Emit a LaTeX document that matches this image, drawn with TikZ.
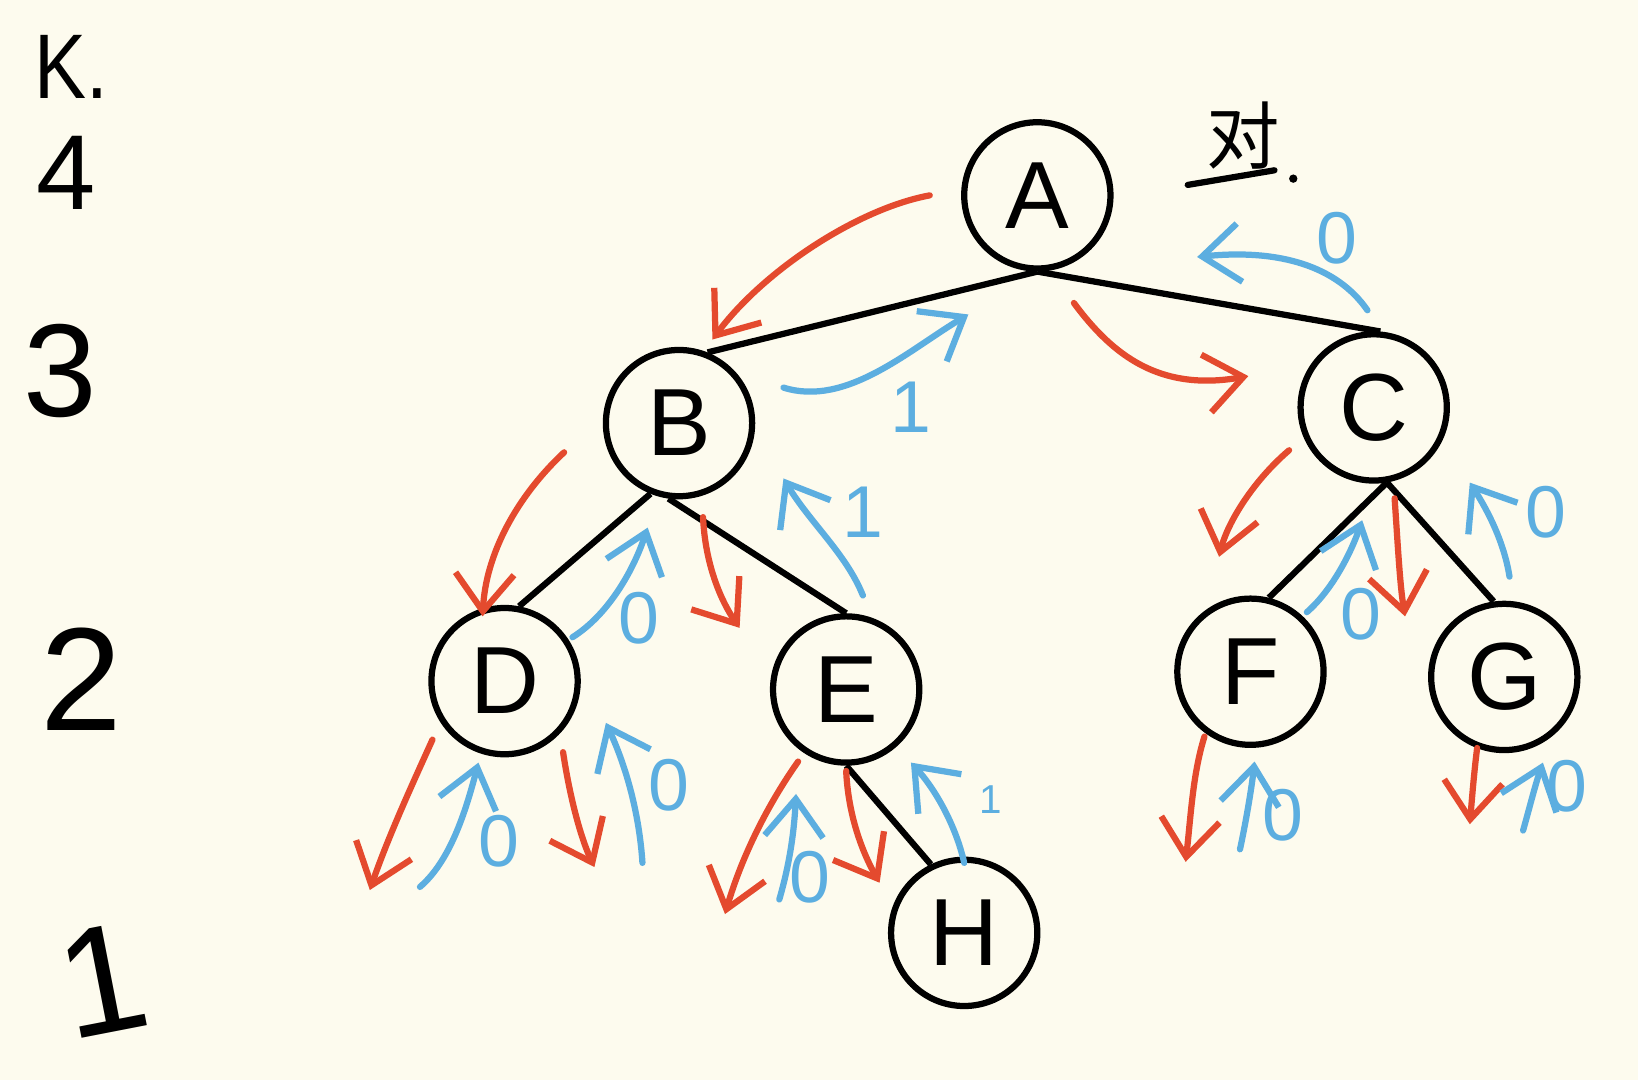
\documentclass[tikz,border=0pt]{standalone}
\usepackage{fontspec}
\setmainfont{Liberation Sans}
\newfontfamily\cjk{Noto Sans CJK SC}
\usetikzlibrary{arrows.meta}
\definecolor{paper}{RGB}{253,251,238}
\definecolor{redpen}{RGB}{228,74,46}
\definecolor{bluepen}{RGB}{92,174,224}
\tikzset{
  vertex/.style={circle,draw,line width=1.7pt,minimum size=14mm,inner sep=0pt,
    font=\fontsize{26}{26}\selectfont},
  goarrow/.style={draw=redpen,line width=1.7pt,line cap=round,
    -{Straight Barb[length=3.6mm,width=5.6mm]}},
  backarrow/.style={draw=bluepen,line width=1.7pt,line cap=round,
    -{Straight Barb[length=3.6mm,width=5.6mm]}},
  bit/.style={text=bluepen,inner sep=0pt,font=\fontsize{20}{20}\selectfont},
  kmark/.style={inner sep=0pt}
}
\begin{document}
\begin{tikzpicture}[x=0.1mm,y=-0.1mm]
  \fill[paper] (0,0) rectangle (1568,1034);
  \useasboundingbox (0,0) rectangle (1568,1034);
  % left column
  \node[kmark,font=\fontsize{25}{25}\selectfont,xscale=0.85] (k) at (68,64) {K.};
  \node[kmark,font=\fontsize{29}{29}\selectfont] (k4) at (63,165) {4};
  \node[kmark,font=\fontsize{36}{36}\selectfont] (k3) at (58,355) {3};
  \node[kmark,font=\fontsize{40}{40}\selectfont] (k2) at (78,650) {2};
  \node[kmark,font=\fontsize{42}{42}\selectfont,rotate=11] (k1) at (98,938) {1};
  % the tree
  \node[vertex] (a) at (993,187) {A};
  \node[vertex] (b) at (650,405) {B};
  \node[vertex] (c) at (1315,390) {C};
  \node[vertex] (d) at (483,652) {D};
  \node[vertex] (e) at (810,660) {E};
  \node[vertex] (f) at (1197,643) {F};
  \node[vertex] (g) at (1440,648) {G};
  \node[vertex] (h) at (923,893) {H};
  \foreach \from/\to in {a.south/b.68,a.south/c.85,b.248/d.79,b.262/e.north,
    c.280/f.76,c.280/g.98,e.south/h.116}
    \draw[line width=1.7pt] (\from) -- (\to);
  % note
  \node[kmark,font=\cjk\fontsize{20}{20}\selectfont] (note) at (1190,130) {对};
  \draw[line width=1.7pt,line cap=round] (1137,177) -- (1220,163);
  \fill (1238,171) circle (4);
  % going down
  \draw[goarrow] (890,187) .. controls (820,200) and (730,260) .. (682,325);
  \draw[goarrow] (1028,290) .. controls (1065,340) and (1110,375) .. (1195,360);
  \draw[goarrow] (540,433) .. controls (495,475) and (465,530) .. (462,590);
  \draw[goarrow] (673,495) .. controls (675,540) and (690,575) .. (708,601);
  \draw[goarrow] (1234,431) .. controls (1200,460) and (1175,500) .. (1167,533);
  \draw[goarrow] (1335,477) .. controls (1338,520) and (1340,560) .. (1345,590);
  \draw[goarrow] (414,708) .. controls (395,750) and (372,800) .. (354,852);
  \draw[goarrow] (539,720) .. controls (545,760) and (555,800) .. (569,830);
  \draw[goarrow] (764,729) .. controls (735,770) and (710,820) .. (694,875);
  \draw[goarrow] (810,738) .. controls (812,780) and (825,815) .. (842,845);
  \draw[goarrow] (1153,705) .. controls (1142,740) and (1140,780) .. (1135,825);
  \draw[goarrow] (1414,716) .. controls (1411,740) and (1409,765) .. (1407,789);
  % coming back
  \draw[backarrow] (750,371) .. controls (810,390) and (870,335) .. (927,301);
  \draw[backarrow] (1309,297) .. controls (1280,255) and (1225,238) .. (1146,246);
  \draw[backarrow] (548,610) .. controls (580,590) and (605,550) .. (620,505);
  \draw[backarrow] (826,570) .. controls (810,530) and (775,500) .. (750,458);
  \draw[backarrow] (1251,586) .. controls (1275,565) and (1293,530) .. (1304,498);
  \draw[backarrow] (1445,552) .. controls (1440,520) and (1425,490) .. (1407,462);
  \draw[backarrow] (402,849) .. controls (430,825) and (445,780) .. (458,730);
  \draw[backarrow] (615,826) .. controls (612,780) and (600,735) .. (580,692);
  \draw[backarrow] (746,861) .. controls (755,830) and (760,800) .. (762,760);
  \draw[backarrow] (923,826) .. controls (915,790) and (895,755) .. (872,730);
  \draw[backarrow] (1187,813) .. controls (1193,785) and (1198,755) .. (1201,729);
  \draw[backarrow] (1458,795) .. controls (1465,770) and (1470,750) .. (1477,730);
  % returned values
  \node[bit] (v1) at (872,390) {1};
  \node[bit] (v2) at (1280,228) {0};
  \node[bit] (v3) at (612,592) {0};
  \node[bit] (v4) at (826,490) {1};
  \node[bit] (v5) at (1303,588) {0};
  \node[bit] (v6) at (1480,490) {0};
  \node[bit] (v7) at (478,805) {0};
  \node[bit] (v8) at (640,752) {0};
  \node[bit] (v9) at (775,840) {0};
  \node[bit,font=\fontsize{11}{11}\selectfont] (v10) at (948,765) {1};
  \node[bit] (v11) at (1228,780) {0};
  \node[bit] (v12) at (1500,753) {0};
\end{tikzpicture}
\end{document}
